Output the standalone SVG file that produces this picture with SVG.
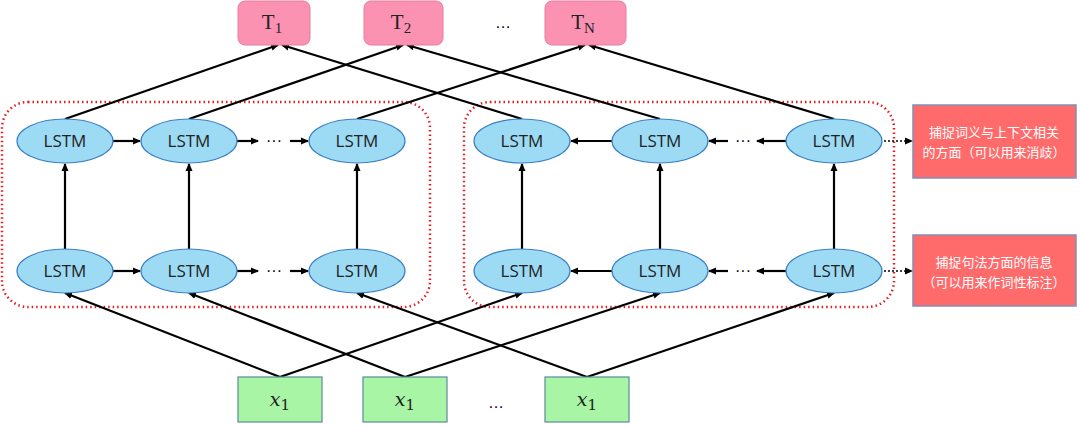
<svg xmlns="http://www.w3.org/2000/svg" width="1080" height="429" viewBox="0 0 1080 429">
<style>
.t{fill:#FB92B2;stroke:#E97AA0;stroke-width:1}
.x{fill:#A8F5A6;stroke:#5C8A9A;stroke-width:1.2}
.l{fill:#9DDBF5;stroke:#3B7FC4;stroke-width:1.2}
.lt{font-family:"Open Sans","Liberation Sans",sans-serif;font-size:17px;fill:#222;text-anchor:middle}
.st{font-family:"Liberation Serif",serif;font-size:21px;fill:#222;text-anchor:middle}
.c{stroke:#000;stroke-width:2.2;fill:none;marker-end:url(#a)}
.d{stroke:#000;stroke-width:1.5;stroke-dasharray:2 2;fill:none;marker-end:url(#a)}
.g{fill:none;stroke:#E02020;stroke-width:2.5;stroke-dasharray:1.5 3}
.r{fill:#FF6B6B;stroke:#8090B8;stroke-width:1.5}
.rt{font-family:"Noto Sans CJK SC",sans-serif;font-size:13px;fill:#fff;text-anchor:middle}
.dots{font-family:"Liberation Sans",sans-serif;font-size:16px;fill:#000;text-anchor:middle}
.xt{font-family:"DejaVu Serif",serif;font-style:italic;font-size:19px;text-anchor:middle;fill:#222}
</style>
<defs><marker id="a" markerWidth="8" markerHeight="8" refX="7" refY="4" orient="auto" markerUnits="userSpaceOnUse"><path d="M0,0.5L8,4L0,7.5z" fill="#000"/></marker></defs>
<rect class="g" x="2" y="102" width="428" height="205" rx="26"/>
<rect class="g" x="464" y="102" width="430" height="205" rx="26"/>
<g id="connectors">
<line class="c" x1="65" y1="119" x2="278" y2="45"/>
<line class="c" x1="522" y1="119" x2="282" y2="45"/>
<line class="c" x1="189" y1="119" x2="403" y2="45"/>
<line class="c" x1="660" y1="119" x2="407" y2="45"/>
<line class="c" x1="357" y1="119" x2="585" y2="45"/>
<line class="c" x1="834" y1="119" x2="589" y2="45"/>
<line class="c" x1="280" y1="377" x2="65" y2="293"/>
<line class="c" x1="280" y1="377" x2="522" y2="293"/>
<line class="c" x1="405" y1="377" x2="189" y2="293"/>
<line class="c" x1="405" y1="377" x2="660" y2="293"/>
<line class="c" x1="587" y1="377" x2="357" y2="293"/>
<line class="c" x1="587" y1="377" x2="834" y2="293"/>
<line class="c" x1="65" y1="249" x2="65" y2="164"/>
<line class="c" x1="189" y1="249" x2="189" y2="164"/>
<line class="c" x1="357" y1="249" x2="357" y2="164"/>
<line class="c" x1="522" y1="249" x2="522" y2="164"/>
<line class="c" x1="660" y1="249" x2="660" y2="164"/>
<line class="c" x1="834" y1="249" x2="834" y2="164"/>
<line class="c" x1="113" y1="141" x2="140" y2="141"/>
<line class="c" x1="237" y1="141" x2="258" y2="141"/>
<line class="c" x1="290" y1="141" x2="308" y2="141"/>
<line class="c" x1="113" y1="271" x2="140" y2="271"/>
<line class="c" x1="237" y1="271" x2="258" y2="271"/>
<line class="c" x1="290" y1="271" x2="308" y2="271"/>
<line class="c" x1="612" y1="141" x2="571" y2="141"/>
<line class="c" x1="786" y1="141" x2="757" y2="141"/>
<line class="c" x1="728" y1="141" x2="709" y2="141"/>
<line class="c" x1="612" y1="271" x2="571" y2="271"/>
<line class="c" x1="786" y1="271" x2="757" y2="271"/>
<line class="c" x1="728" y1="271" x2="709" y2="271"/>
<text class="dots" x="274" y="146">···</text><text class="dots" x="274" y="276">···</text>
<text class="dots" x="743" y="146">···</text><text class="dots" x="743" y="276">···</text>
<line class="d" x1="884" y1="141" x2="912" y2="141"/>
<line class="d" x1="884" y1="271" x2="912" y2="271"/>
</g>
<g id="T1"><rect class="t" x="238" y="1" width="72" height="44" rx="7"/><text class="st" x="272" y="29">T<tspan style="font-size:15px" dy="4">1</tspan></text></g>
<g id="T2"><rect class="t" x="364" y="1" width="79" height="44" rx="7"/><text class="st" x="401" y="29">T<tspan style="font-size:15px" dy="4">2</tspan></text></g>
<text class="dots" x="503" y="28">…</text>
<g id="TN"><rect class="t" x="545" y="1" width="81" height="44" rx="7"/><text class="st" x="583" y="29">T<tspan style="font-size:15px" dy="4">N</tspan></text></g>
<g id="L1"><ellipse class="l" cx="65" cy="141" rx="48" ry="22"/><text class="lt" x="65" y="147">LSTM</text></g>
<g id="L2"><ellipse class="l" cx="189" cy="141" rx="48" ry="22"/><text class="lt" x="189" y="147">LSTM</text></g>
<g id="L3"><ellipse class="l" cx="357" cy="141" rx="48" ry="22"/><text class="lt" x="357" y="147">LSTM</text></g>
<g id="L4"><ellipse class="l" cx="65" cy="271" rx="48" ry="22"/><text class="lt" x="65" y="277">LSTM</text></g>
<g id="L5"><ellipse class="l" cx="189" cy="271" rx="48" ry="22"/><text class="lt" x="189" y="277">LSTM</text></g>
<g id="L6"><ellipse class="l" cx="357" cy="271" rx="48" ry="22"/><text class="lt" x="357" y="277">LSTM</text></g>
<g id="R1"><ellipse class="l" cx="522" cy="141" rx="48" ry="22"/><text class="lt" x="522" y="147">LSTM</text></g>
<g id="R2"><ellipse class="l" cx="660" cy="141" rx="48" ry="22"/><text class="lt" x="660" y="147">LSTM</text></g>
<g id="R3"><ellipse class="l" cx="834" cy="141" rx="48" ry="22"/><text class="lt" x="834" y="147">LSTM</text></g>
<g id="R4"><ellipse class="l" cx="522" cy="271" rx="48" ry="22"/><text class="lt" x="522" y="277">LSTM</text></g>
<g id="R5"><ellipse class="l" cx="660" cy="271" rx="48" ry="22"/><text class="lt" x="660" y="277">LSTM</text></g>
<g id="R6"><ellipse class="l" cx="834" cy="271" rx="48" ry="22"/><text class="lt" x="834" y="277">LSTM</text></g>
<g id="X1"><rect class="x" x="238" y="377" width="84" height="45"/><text class="xt" x="280" y="406">x<tspan style="font-style:normal;font-size:15px" dy="4">1</tspan></text></g>
<g id="X2"><rect class="x" x="363" y="377" width="84" height="45"/><text class="xt" x="405" y="406">x<tspan style="font-style:normal;font-size:15px" dy="4">1</tspan></text></g>
<text class="dots" x="496" y="408">…</text>
<g id="XN"><rect class="x" x="545" y="377" width="84" height="45"/><text class="xt" x="587" y="406">x<tspan style="font-style:normal;font-size:15px" dy="4">1</tspan></text></g>
<g id="N1"><rect class="r" x="913" y="105" width="163" height="73"/><text class="rt" x="994" y="137">捕捉词义与上下文相关</text><text class="rt" x="994" y="157">的方面（可以用来消歧）</text></g>
<g id="N2"><rect class="r" x="913" y="235" width="163" height="71"/><text class="rt" x="994" y="267">捕捉句法方面的信息</text><text class="rt" x="994" y="287">（可以用来作词性标注）</text></g>
</svg>
